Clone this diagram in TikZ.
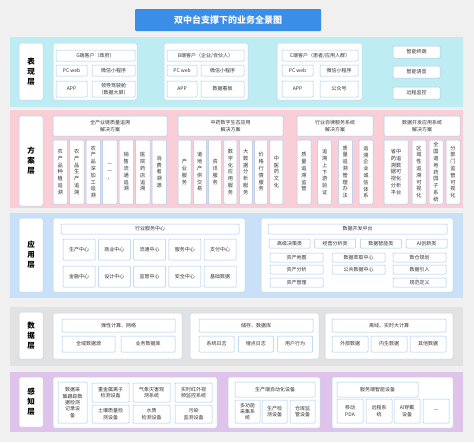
\documentclass[tikz,border=0pt]{standalone}
\usepackage{fontspec}
\setmainfont{Noto Sans CJK SC}
\usetikzlibrary{calc}

\definecolor{bgc}{HTML}{F0F0F0}
\definecolor{titlec}{HTML}{3A8EE8}
\definecolor{bordc}{HTML}{A6C8EA}
\definecolor{grpc}{HTML}{B8D4EE}
\definecolor{txtc}{HTML}{333333}
\definecolor{layA}{HTML}{BDECF2}
\definecolor{layB}{HTML}{F9CED7}
\definecolor{layC}{HTML}{C8E0F8}
\definecolor{layD}{HTML}{E2E2E2}
\definecolor{layE}{HTML}{DFC3EA}

\tikzset{
  blk/.style={draw=bordc,fill=white,line width=0.5pt,inner sep=0pt,outer sep=0pt,
    rounded corners=0.8pt,anchor=north west,align=center,text=txtc,
    font=\fontsize{5}{6.4}\selectfont},
  grp/.style={blk,draw=grpc,rounded corners=1.5pt},
  vcol/.style={blk,font=\fontsize{5.2}{6.8}\selectfont},
  lab/.style={grp,text=black,font=\fontsize{7.5}{10}\selectfont\bfseries},
  ttl/.style={blk,draw=none,fill=titlec,rounded corners=1pt,text=white,
    font=\fontsize{9}{10}\selectfont\bfseries},
}
% 箱: 名前, 左上, 幅, 高さ, 文字
\newcommand{\bx}[6][blk]{\node[#1,minimum width=#4pt,minimum height=#5pt] (#2) at (#3) {#6};}
% 縦書き
\makeatletter
\def\vchars#1{\expandafter\vch@#1\@nil}
\def\vch@#1#2\@nil{#1\ifx\relax#2\relax\else\\\vch@#2\@nil\fi}
\makeatother

\begin{document}
\begin{tikzpicture}[x=1pt,y=-1pt]
    \fill[bgc] (0,0) rectangle (474,442);
    \bx[ttl]{title}{135,9}{186}{22}{双中台支撑下的业务全景图}

    % 表现层
    \fill[layA] (10,37) rectangle (463,107);
    \bx[lab]{lA}{19,43}{24}{57}{表\\现\\层}
    \bx[grp]{gG}{53,43}{84}{57}{}
    \bx{gGh}{56,50}{79}{11}{G端客户（政府）}
    \bx{gGa}{56,65}{31}{11}{PC web}
    \bx{gGb}{92,65}{43}{11}{微信小程序}
    \bx{gGc}{56,81}{31}{16}{APP}
    \bx{gGd}{92,81}{43}{16}{领导驾驶舱\\（数据大屏）}
    \bx[grp]{gB}{164,43}{84}{57}{}
    \bx{gBh}{167,50}{77}{11}{B端客户（企业/合伙人）}
    \bx{gBa}{167,65}{30}{11}{PC web}
    \bx{gBb}{201,65}{43}{11}{微信小程序}
    \bx{gBc}{167,81}{30}{16}{APP}
    \bx{gBd}{201,81}{43}{16}{数据看板}
    \bx[grp]{gC}{277,43}{85}{57}{}
    \bx{gCh}{282,50}{76}{11}{C端客户（患者/应用人群）}
    \bx{gCa}{282,65}{31}{11}{PC web}
    \bx{gCb}{320,65}{38}{11}{微信小程序}
    \bx{gCc}{282,81}{31}{16}{APP}
    \bx{gCd}{320,81}{38}{16}{公众号}
    \foreach \t/\y [count=\i] in {智能终端/46,智能语音/66,远程监控/87}
        {\bx{ter\i}{393,\y}{47}{12}{\t}}

    % 方案层
    \fill[layB] (10,110) rectangle (463,208);
    \bx[lab]{lB}{19,116}{24}{90}{方\\案\\层}
    \bx{sAh}{53,116}{114}{20}{全产业链质量追溯\\解决方案}
    \foreach \t [count=\i from 0] in {农产品种植追溯,农产品生产追溯,农产品深加工追溯,——，,销售流通追溯,医院药店追溯,消费者溯源}
        {\bx[vcol]{sA\i}{53+16.5*\i,140}{14.5}{64}{\vchars{\t}}}
    \bx{sBh}{178,116}{105}{20}{中药数字生态应用\\解决方案}
    \foreach \t [count=\i from 0] in {产业服务,道地产供交易,资讯服务,数字化应用服务,大数据分析服务,价格行情服务,中医药文化}
        {\bx[vcol]{sB\i}{178+15.33*\i,140}{13}{64}{\vchars{\t}}}
    \bx{sCh}{297,116}{76}{20}{行业自律服务系统\\解决方案}
    \foreach \t [count=\i from 0] in {质量追溯监管,追溯上下游验证,质量追溯管理办法,追溯企业诚信体系}
        {\bx[vcol]{sC\i}{297+20.67*\i,140}{14}{64}{\vchars{\t}}}
    \bx{sDh}{384,116}{76}{20}{数据开发应用系统\\解决方案}
    \bx[vcol]{sD0}{384,140}{24}{64}{省中\\药追\\溯数\\据可\\视化\\分析\\平台}
    \foreach \t/\x [count=\i] in {区域性追溯可视化/412,全国道地药园子系统/429,分部门监管可视化/446}
        {\bx[vcol]{sD\i}{\x,140}{14}{64}{\vchars{\t}}}

    % 应用层
    \fill[layC] (10,213) rectangle (463,298);
    \bx[lab]{lC}{19,218}{24}{74}{应\\用\\层}
    \bx[grp]{aA}{53,218}{192}{74}{}
    \bx{aAh}{61,224}{178}{10}{行业服务中心}
    \foreach \t [count=\i from 0] in {生产中心,商业中心,流通中心,服务中心,支付中心}
        {\bx{aAu\i}{63+35.3*\i,239}{32}{21}{\t}}
    \foreach \t [count=\i from 0] in {金融中心,设计中心,监管中心,安全中心,基础数据}
        {\bx{aAl\i}{63+35.3*\i,266}{32}{21}{\t}}
    \bx[grp]{aB}{261,218}{192}{74}{}
    \bx{aBh}{268,224}{179}{10}{数据开发中台}
    \foreach \t [count=\i from 0] in {高级决策类,经营分析类,数据智能类,AI创新类}
        {\bx{aBu\i}{269+45.7*\i,239}{41}{9}{\t}}
    \foreach \t/\x/\y [count=\i] in {资产地图/270/253,数据萃取中心/332/253,数仓规划/393/253,
        资产分析/270/265,公共数据中心/332/265,数据引入/393/265,资产管理/270/278,规范定义/393/278}
        {\bx{aBm\i}{\x,\y}{53}{9}{\t}}

    % 数据层
    \fill[layD] (10,307) rectangle (463,366);
    \bx[lab]{lD}{19,312}{24}{47}{数\\据\\层}
    \bx[grp]{dA}{53,313}{129}{46}{}
    \bx{dAh}{62,319}{113}{13}{弹性计算、网络}
    \bx{dAa}{62,336}{53}{16}{全域数据源}
    \bx{dAb}{121,336}{54}{16}{业务数据库}
    \bx[grp]{dB}{190,313}{129}{46}{}
    \bx{dBh}{199,319}{114}{13}{储存、数据库}
    \foreach \t [count=\i from 0] in {系统日志,埋点日志,用户行为}
        {\bx{dB\i}{199+39.3*\i,336}{35}{16}{\t}}
    \bx[grp]{dC}{325,313}{128}{46}{}
    \bx{dCh}{332,319}{114}{13}{离线、实时大计算}
    \foreach \t [count=\i from 0] in {外部数据,内生数据,其他数据}
        {\bx{dC\i}{332+39*\i,336}{36}{16}{\t}}

    % 感知层
    \fill[layE] (10,372) rectangle (463,432);
    \bx[lab]{lE}{19,377}{24}{50}{感\\知\\层}
    \bx[grp]{pA}{53,377}{164}{51}{}
    \bx{pA0}{58,382}{29}{41}{数据采\\集跟踪数\\据检测\\记录设\\备}
    \foreach \t/\x [count=\i] in {{重金属离子\\检测设备}/92,{气象灾害观\\测系统}/133,{实时红外视\\频监控系统}/175}
        {\bx{pAu\i}{\x,383}{37}{19}{\t}}
    \foreach \t/\x [count=\i] in {{土壤质量检\\测设备}/92,{水质\\检测设备}/133,{污染\\监测设备}/175}
        {\bx{pAl\i}{\x,405}{37}{18}{\t}}
    \bx[grp]{pB}{228,377}{92}{51}{}
    \bx{pBh}{235,382}{80}{15}{生产端自动化设备}
    \foreach \t/\x [count=\i] in {{多功能\\采集系\\统}/235,{生产检\\测设备}/262,{仓库监\\管设备}/290}
        {\bx{pB\i}{\x,400}{25}{23}{\t}}
    \bx[grp]{pC}{332,377}{121}{51}{}
    \bx{pCh}{337,382}{81}{15}{服务端智能设备}
    \foreach \t/\x [count=\i] in {{移动\\PDA}/337,{远程系\\统}/366,{AI穿戴\\设备}/394,—/423}
        {\bx{pC\i}{\x,399}{26}{24}{\t}}
\end{tikzpicture}
\end{document}
